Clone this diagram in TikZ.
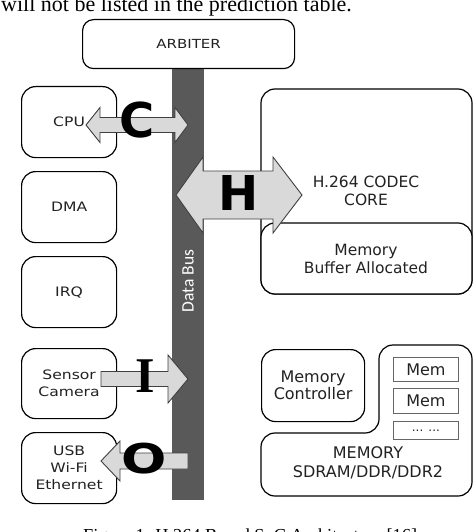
\documentclass[tikz,border=0pt]{standalone}
\usepackage{fontspec}
\setmainfont{DejaVu Sans}
\newfontfamily\widefont[FakeStretch=1.2]{DejaVu Sans}
\newfontfamily\busfont{Carlito}
\newfontfamily\seriffont{Liberation Serif}
\definecolor{busgray}{HTML}{595959}
\definecolor{arrowfill}{HTML}{D9D9D9}
\definecolor{arrowline}{HTML}{404040}
\definecolor{txt}{HTML}{222222}
\begin{document}
\begin{tikzpicture}[x=1pt,y=-1pt,
  box/.style={draw=black, line width=1.2pt, rounded corners=14pt, fill=white},
  lbox/.style={box, minimum width=95pt, anchor=north west, inner sep=0pt, align=center, text=txt,
     font=\widefont\fontsize{13}{17}\selectfont},
  rtext/.style={align=center, text=txt, inner sep=0pt, font=\fontsize{15.5}{18.5}\selectfont},
  memtext/.style={align=center, text=txt, inner sep=0pt, font=\fontsize{16}{19}\selectfont},
  membox/.style={draw=gray!80!black, line width=0.8pt, fill=white},
  blockarrow/.style={fill=arrowfill, draw=arrowline, line width=0.9pt, line join=miter},
  letter/.style={inner sep=0pt, anchor=base, text=black}]
\useasboundingbox (0,0) rectangle (474,532);
\clip (0,0) rectangle (474,532);

% cropped surrounding text
\node[anchor=base west, inner sep=0pt, font=\seriffont\fontsize{22}{26}\selectfont] (prev) at (1,12) {will not be listed in the prediction table.};
\node[anchor=base west, inner sep=0pt, font=\seriffont\fontsize{18.3}{22}\selectfont] (cap) at (83,541) {Figure 1. H.264 Based SoC Architecture [16]};

% data bus
\fill[busgray] (172,68) rectangle (204,500);
\coordinate (bus) at (188,281);
\node[rotate=90, text=white, inner sep=0pt, font=\busfont\fontsize{17.5}{20}\selectfont] (buslabel) at (bus) {Data Bus};

% arbiter
\node[box, rounded corners=11pt, minimum width=212pt, minimum height=49pt, anchor=north west, inner sep=0pt, text=txt,
  font=\widefont\fontsize{12.5}{16}\selectfont] (arb) at (82,19) {ARBITER};

% left column
\node[lbox, minimum height=71pt] (cpu) at (21,86) {CPU};
\node[lbox, minimum height=71pt] (dma) at (21,171) {DMA};
\node[lbox, minimum height=71pt] (irq) at (21,256) {IRQ};
\node[lbox, minimum height=70pt] (sensor) at (21,348) {Sensor\\Camera};
\node[lbox, minimum height=71pt] (usb) at (21,432) {USB\\Wi-Fi\\Ethernet};

% codec
\draw[box] (261,89) rectangle (472,294);
\coordinate (codecc) at (366,191);
\node[rtext] (codec) at (codecc) {H.264 CODEC\\CORE};
\draw[box] (261,223) rectangle (472,294);
\node[rtext] (membuf) at (366,259) {Memory\\Buffer Allocated};

% memory
\node[box, minimum width=103pt, minimum height=72pt, anchor=north west, inner sep=0pt, align=center, text=txt,
  font=\fontsize{16}{17}\selectfont] (memctl) at (261,349) {Memory\\Controller};
\draw[box] (379,345) -- (472,345) -- (472,496) -- (261,496) -- (261,433) -- (379,433) -- cycle;
\node[memtext] (memory) at (368,463) {MEMORY\\SDRAM/DDR/DDR2};
\node[membox, minimum width=65pt, minimum height=24pt, anchor=north west, inner sep=0pt, text=txt, font=\fontsize{16}{19}\selectfont] (mem1) at (393,357) {Mem};
\node[membox, minimum width=65pt, minimum height=25pt, anchor=north west, inner sep=0pt, text=txt, font=\fontsize{16}{19}\selectfont] (mem2) at (393,388) {Mem};
\node[membox, minimum width=65pt, minimum height=18pt, anchor=north west, inner sep=0pt, text=txt, font=\fontsize{12}{14}\selectfont] (mem3) at (393,421) {... ...};

% block arrows
\draw[blockarrow] (86,125) -- (100,107.5) -- (100,117.5) -- (175,117.5) -- (175,107.5) -- (188,125)
  -- (175,142.5) -- (175,132.5) -- (100,132.5) -- (100,142.5) -- cycle;
\draw[blockarrow] (176,195) -- (203,157) -- (203,171) -- (273,171) -- (273,157) -- (302,195)
  -- (273,233) -- (273,219) -- (203,219) -- (203,233) -- cycle;
\draw[blockarrow] (101,371.5) -- (168,371.5) -- (168,355) -- (188,379) -- (168,403) -- (168,386.5) -- (101,386.5) -- cycle;
\draw[blockarrow] (101,461) -- (120,441) -- (120,453) -- (188,453) -- (188,469) -- (120,469) -- (120,481) -- cycle;

% letters
\node[letter, font=\bfseries\fontsize{48}{48}\selectfont] (lc) at (137.5,137.5) {C};
\node[letter, font=\bfseries\fontsize{48}{48}\selectfont] (lh) at (239,210) {H};
\node[letter, font=\seriffont\bfseries\fontsize{50}{50}\selectfont] (li) at (145,392) {I};
\node[letter, xscale=1.3, font=\bfseries\fontsize{41}{41}\selectfont] (lo) at (144.5,473) {O};
\end{tikzpicture}
\end{document}
